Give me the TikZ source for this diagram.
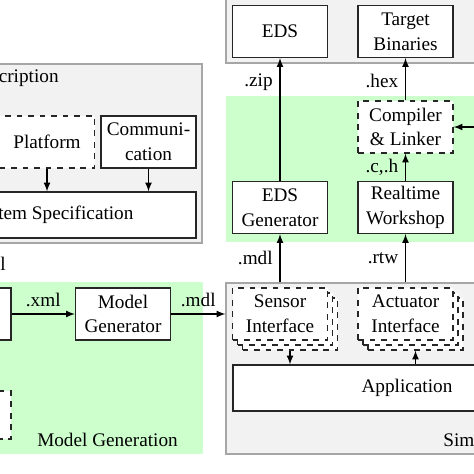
\documentclass[tikz,border=0pt]{standalone}
\usepackage{fontspec}
\setmainfont{Liberation Serif}
\usetikzlibrary{shadows}
\newcommand{\pxu}{0.52pt}
\tikzset{
	blk/.style={draw=black!85,line width=0.6pt,fill=white,minimum width=95*\pxu,minimum height=52*\pxu,align=center,inner sep=1pt,font=\fontsize{10}{12.8}\selectfont},
	dblk/.style={blk,dashed},
	stackblk/.style={dblk,double copy shadow={shadow xshift=2.6pt,shadow yshift=-2.6pt,draw=black!85,line width=0.6pt,dashed,fill=white}},
	graypanel/.style={draw=gray!70,line width=0.6pt,fill=gray!10,inner sep=0pt},
	greenpanel/.style={fill=green!20,inner sep=0pt},
	vlbl/.style={left,inner sep=3.5pt},
	hlbl/.style={above,inner sep=3.5pt},
	arr/.style={->,>=latex,line width=0.6pt}
}
\begin{document}
\begin{tikzpicture}[x=\pxu,y=-\pxu]
		\useasboundingbox (0,0) rectangle (474,474);
		\clip (0,0) rectangle (474,474);
		\node[graypanel,minimum width=322*\pxu,minimum height=179*\pxu] (descpanel) at (41,153.5) {};
		\node[greenpanel,minimum width=323*\pxu,minimum height=172*\pxu] (genpanel) at (41.5,368) {};
		\node[graypanel,minimum width=374*\pxu,minimum height=103*\pxu] (outpanel) at (413,11.5) {};
		\node[greenpanel,minimum width=374*\pxu,minimum height=146*\pxu] (codepanel) at (413,169) {};
		\node[graypanel,minimum width=374*\pxu,minimum height=171*\pxu] (simpanel) at (413,368.5) {};
		\node[anchor=east,inner sep=0pt] (desctitle) at (59,78) {System Description};
		\node[anchor=east,inner sep=0pt] (xmlleft) at (6,264) {.xml};
		\node[inner sep=0pt] (gentitle) at (107.5,440) {Model Generation};
		\node[anchor=west,inner sep=0pt] (simtitle) at (443,440) {Simulation};
		\node[dblk] (platform) at (47,142) {Platform};
		\node[blk] (comm) at (148.5,142) {Communi-\\cation};
		\node[blk,minimum width=288*\pxu,minimum height=46*\pxu] (spec) at (52,215) {System Specification};
		\node[blk] (parser) at (-36.5,314) {};
		\node[blk] (modgen) at (123,314) {Model\\Generator};
		\node[dblk,minimum height=48*\pxu] (extra) at (-36.5,415) {};
		\node[blk] (eds) at (280,31.5) {EDS};
		\node[blk] (target) at (405.5,31.5) {Target\\Binaries};
		\node[dblk] (compiler) at (405.5,127) {Compiler\\\& Linker};
		\node[blk] (edsgen) at (280,207.5) {EDS\\Generator};
		\node[blk] (rtw) at (405.5,207.5) {Realtime\\Workshop};
		\node[stackblk] (sensor) at (280,314) {Sensor\\Interface};
		\node[stackblk] (actuator) at (405.5,314) {Actuator\\Interface};
		\node[blk,minimum width=348*\pxu,minimum height=46*\pxu] (app) at (407,388) {Application};
		\coordinate (cmpin) at (490,127);
		\coordinate (sensortail) at ([xshift=5.2pt,yshift=-5.2pt]sensor.south);
		\coordinate (acttail) at ([xshift=5.2pt,yshift=-5.2pt]actuator.south);
		\draw[arr] (platform.south) -- (platform.south |- spec.north);
		\draw[arr] (comm.south) -- (comm.south |- spec.north);
		\draw[arr] (parser.east) -- node[hlbl] {.xml} (modgen.west);
		\draw[arr] (modgen.east) -- node[hlbl] {.mdl} (modgen.east -| simpanel.west);
		\draw[arr] (edsgen.north) -- node[vlbl,pos=.8] {.zip} (eds.south);
		\draw[arr] (compiler.north) -- node[vlbl,pos=.45] {.hex} (target.south);
		\draw[arr] (rtw.north) -- node[vlbl] {.c,.h} (compiler.south);
		\draw[arr] (cmpin) -- (compiler.east);
		\draw[arr] (edsgen.south |- simpanel.north) -- node[vlbl] {.mdl} (edsgen.south);
		\draw[arr] (rtw.south |- simpanel.north) -- node[vlbl] {.rtw} (rtw.south);
		\draw[arr] (sensortail) -- (sensortail |- app.north);
		\draw[arr] (acttail |- app.north) -- (acttail);
	\end{tikzpicture}
\end{document}
